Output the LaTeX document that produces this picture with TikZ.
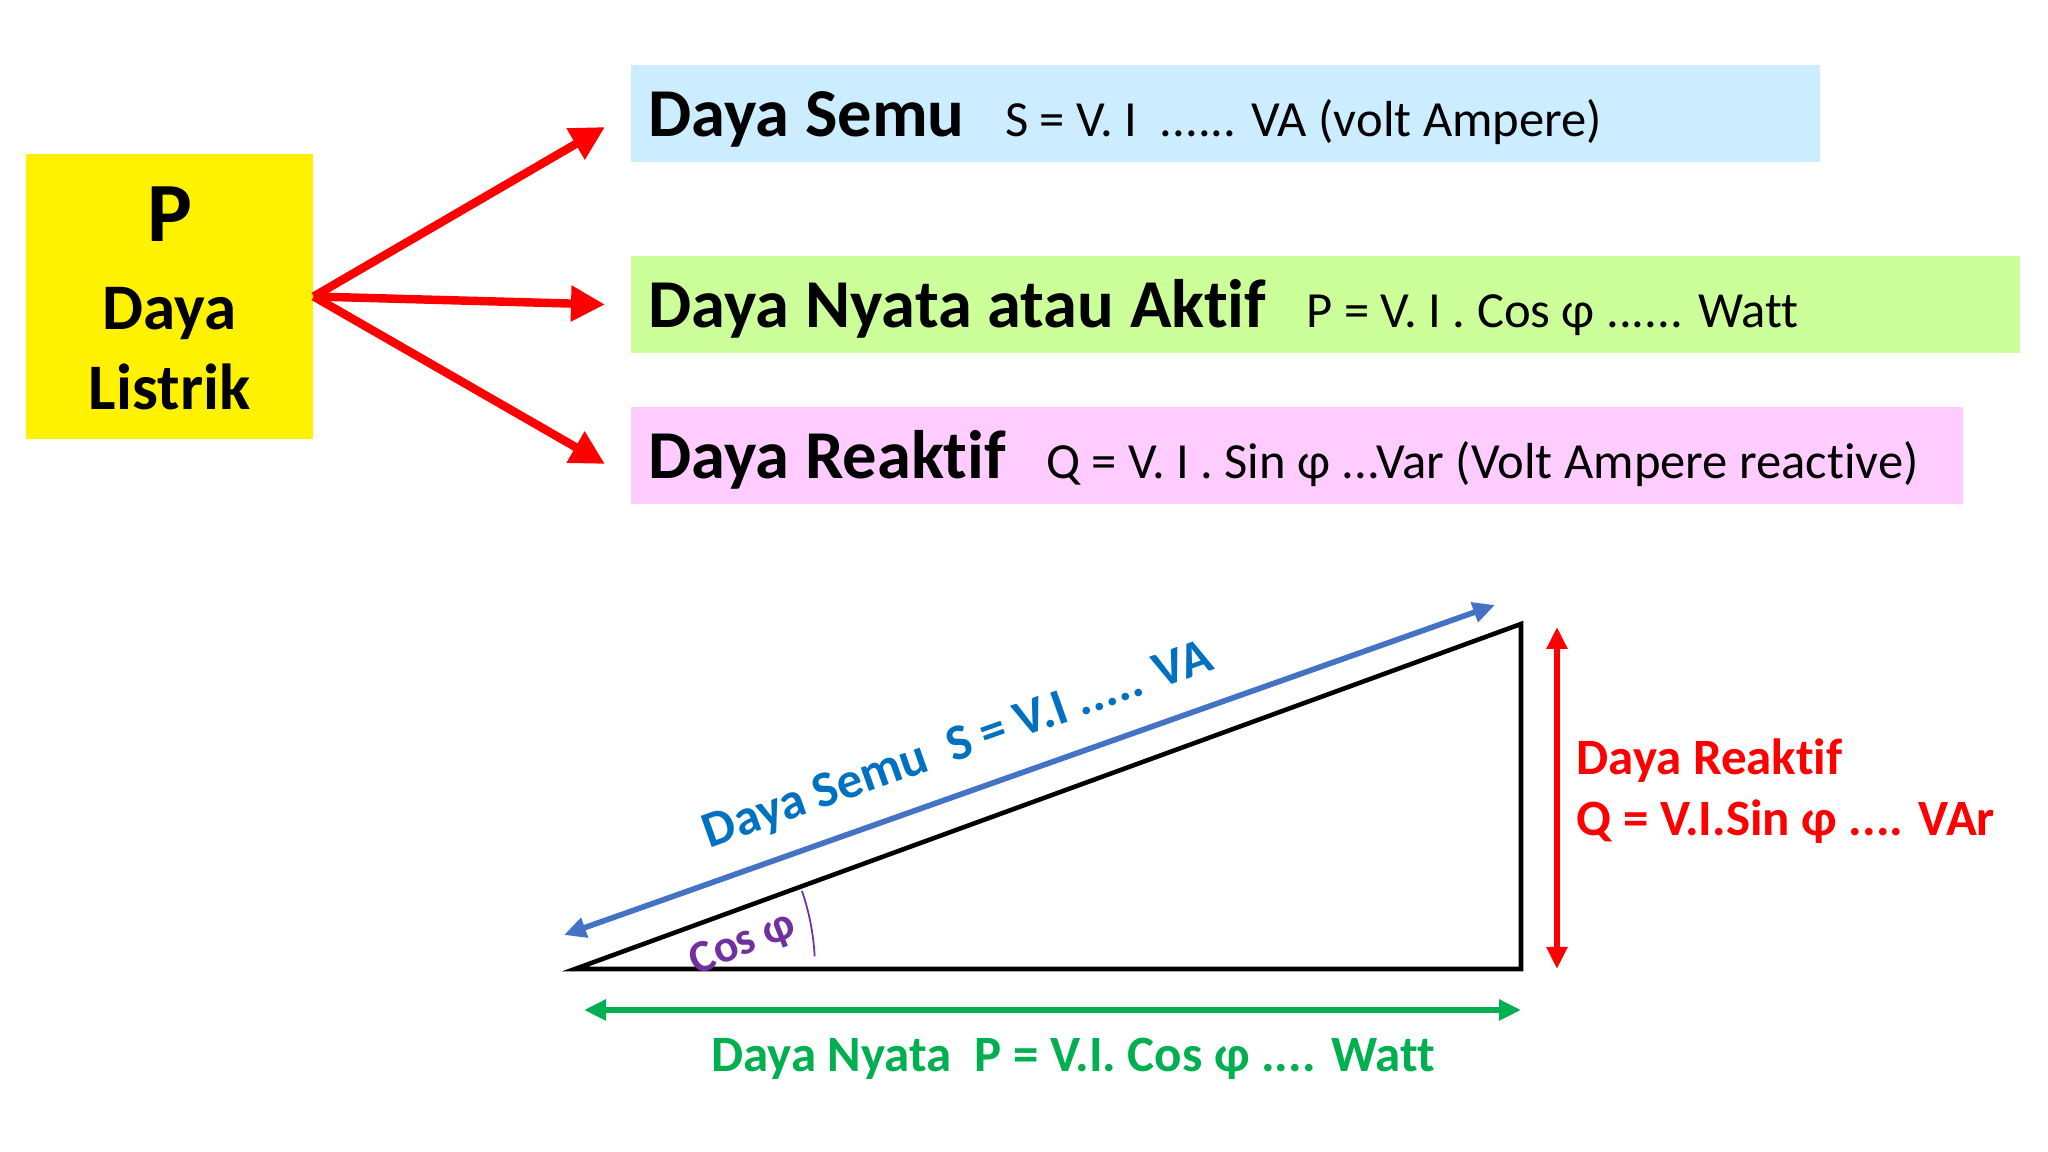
\documentclass[tikz,border=0pt]{standalone}
\usepackage{fontspec}
\setmainfont{Carlito}[Ligatures=NoCommon]
\usetikzlibrary{arrows.meta}
\usetikzlibrary{positioning}

\definecolor{semubg}{HTML}{CCECFF}
\definecolor{nyatabg}{HTML}{CCFF99}
\definecolor{reaktifbg}{HTML}{FFCCFF}
\definecolor{semuline}{HTML}{4472C4}
\definecolor{semutext}{HTML}{0070C0}
\definecolor{nyatagreen}{HTML}{00B050}
\definecolor{cosviolet}{HTML}{7030A0}

\tikzset{
  band/.style={anchor=west, minimum height=0.97cm, inner sep=0pt},
  bandtitle/.style={anchor=base west, inner sep=0pt, font=\fontsize{19.5}{23}\selectfont\bfseries},
  bandformula/.style={anchor=base west, inner sep=0pt, font=\fontsize{14.4}{17}\selectfont},
  bigword/.style={anchor=base, inner sep=0pt, font=\fontsize{18.5}{22}\selectfont\bfseries},
  fork/.style={red, line width=2.4pt, -{Triangle[length=0.34cm,width=0.34cm]}},
  side/.style={line width=1.6pt, {Triangle[length=0.22cm,width=0.2cm]}-{Triangle[length=0.22cm,width=0.2cm]}},
  sidelabel/.style={inner sep=0pt, font=\fontsize{14.5}{17.6}\selectfont\bfseries}
}

\begin{document}
\begin{tikzpicture}
\fill[white] (0,0) rectangle (20.48,11.52);

% yellow box
\node[fill=yellow, minimum width=2.87cm, minimum height=2.85cm, inner sep=0pt] (listrik) at (1.695,8.555) {};
\node[bigword, font=\fontsize{24}{28}\selectfont\bfseries] (listrikP) at ([yshift=0.545cm]listrik.center) {P};
\node[bigword] (listrikD) at ([yshift=-0.335cm]listrik.center) {Daya};
\node[bigword] (listrikL) at ([yshift=-1.135cm]listrik.center) {Listrik};

% three bands
\node[band, fill=semubg, minimum width=11.89cm] (semu) at (6.30,10.38) {};
\node[bandtitle] (semuT) at ([xshift=0.18cm,yshift=-0.23cm]semu.west) {Daya Semu};
\node[bandformula] (semuF) at ([xshift=0.39cm]semuT.base east) {S = V. I\ \ ...... VA (volt Ampere)};

\node[band, fill=nyatabg, minimum width=13.89cm] (nyata) at (6.30,8.475) {};
\node[bandtitle] (nyataT) at ([xshift=0.18cm,yshift=-0.23cm]nyata.west) {Daya Nyata atau Aktif};
\node[bandformula] (nyataF) at ([xshift=0.39cm]nyataT.base east) {P = V. I . Cos φ ...... Watt};

\node[band, fill=reaktifbg, minimum width=13.32cm] (reaktif) at (6.30,6.965) {};
\node[bandtitle] (reaktifT) at ([xshift=0.18cm,yshift=-0.23cm]reaktif.west) {Daya Reaktif};
\node[bandformula] (reaktifF) at ([xshift=0.39cm]reaktifT.base east) {Q = V. I . Sin φ ...Var (Volt Ampere reactive)};

\draw[fork] (listrik.east) -- ([xshift=-0.25cm,yshift=-0.13cm]semu.west);
\draw[fork] (listrik.east) -- ([xshift=-0.25cm]nyata.west);
\draw[fork] (listrik.east) -- ([xshift=-0.25cm,yshift=-0.085cm]reaktif.west);

% triangle
\coordinate (angleA) at (5.75,1.83);
\coordinate (rightB) at (15.21,1.83);
\coordinate (topC) at (15.21,5.28);
\draw[line width=1.3pt] (angleA) -- (rightB) -- (topC) -- cycle;
\draw[cosviolet, line width=0.5pt] ([shift={(3:2.4)}]angleA) arc[start angle=3, end angle=19, radius=2.4cm];
\node[inner sep=0pt, cosviolet, rotate=22, font=\fontsize{13}{15}\selectfont\bfseries] (cosL) at (7.43,2.08) {Cos φ};

% hypotenuse
\coordinate (semuA) at (5.64,2.17);
\coordinate (semuB) at (14.95,5.47);
\draw[side, semuline] (semuA) -- node[pos=0.44, sloped, above=0.22cm, sidelabel, semutext] (semuL) {Daya Semu\ \ S = V.I ..... VA} (semuB);

% vertical side
\coordinate (reakTop) at (15.57,5.25);
\coordinate (reakBot) at (15.57,1.83);
\draw[side, red] (reakTop) -- (reakBot);
\node[sidelabel, red, anchor=base west, align=left] (reakL) at (15.76,3.16) {Daya Reaktif\\Q = V.I.Sin φ .... VAr};

% bottom side
\coordinate (nyataA) at (5.84,1.42);
\coordinate (nyataB) at (15.21,1.42);
\draw[side, nyatagreen] (nyataA) -- (nyataB);
\node[sidelabel, nyatagreen, anchor=base] (nyataL) at (10.73,0.80) {Daya Nyata\ \ P = V.I. Cos φ .... Watt};

\end{tikzpicture}
\end{document}
